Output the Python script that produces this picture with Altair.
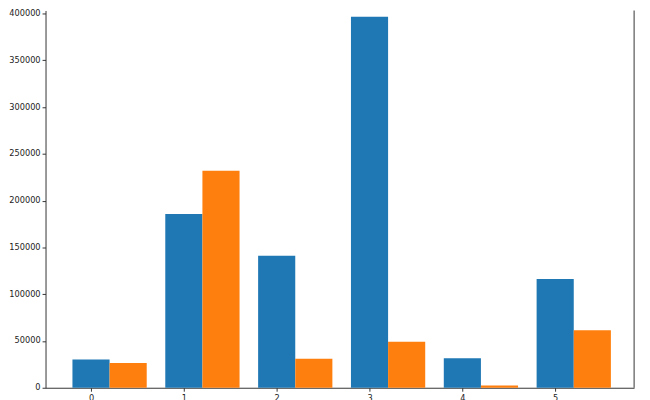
import altair as alt
import pandas as pd

categories = [0, 1, 2, 3, 4, 5]
series_a = [30100, 185700, 141000, 396600, 31600, 116300]
series_b = [26400, 232000, 30900, 49200, 2400, 61500]
series_names = ["A", "B"]
colors = ["#1f77b4", "#ff7f0e"]
y_ticks = [0, 50000, 100000, 150000, 200000, 250000, 300000, 350000, 400000]

rows = []
for i, c in enumerate(categories):
    rows.append({"cat": c, "series": "A", "idx": 0, "value": series_a[i]})
    rows.append({"cat": c, "series": "B", "idx": 1, "value": series_b[i]})
df = pd.DataFrame(rows)

W, H = 596, 382

xscale = alt.Scale(domain=[-0.49, 5.85], nice=False, zero=False)
yscale = alt.Scale(domain=[0, 403200], nice=False)

bars = alt.Chart(df).transform_calculate(
    x0="datum.cat - 0.2 + 0.4 * datum.idx",
    x1="datum.cat + 0.2 + 0.4 * datum.idx",
).mark_bar(opacity=1).encode(
    x=alt.X("x0:Q", scale=xscale, title=None,
            axis=alt.Axis(values=categories, format="d", grid=False, labelFlush=False)),
    x2="x1:Q",
    y=alt.Y("value:Q", scale=yscale, title=None,
            axis=alt.Axis(values=y_ticks, format="d", grid=False, labelFlush=False,
                          labelBaseline="middle")),
    y2=alt.datum(0),
    color=alt.Color("series:N", scale=alt.Scale(domain=series_names, range=colors), legend=None),
)

spine = alt.Chart(pd.DataFrame({"v": [0]})).mark_rule(color="#333333", strokeWidth=1).encode(
    x=alt.value(W), y=alt.value(0), y2=alt.value(H)
)

chart = alt.layer(bars, spine).properties(
    width=W, height=H,
    autosize=alt.AutoSizeParams(type="none"),
    padding={"left": 38, "top": 0, "right": 8, "bottom": 20},
).configure_view(strokeWidth=0).configure_axis(
    domainColor="#333333", domainWidth=1, tickColor="#333333", tickSize=3.5,
    labelFont="DejaVu Sans", labelFontSize=8.3, labelColor="#222222", labelPadding=2,
)

chart.save("out.html", embed_options={"renderer": "svg", "actions": False})
